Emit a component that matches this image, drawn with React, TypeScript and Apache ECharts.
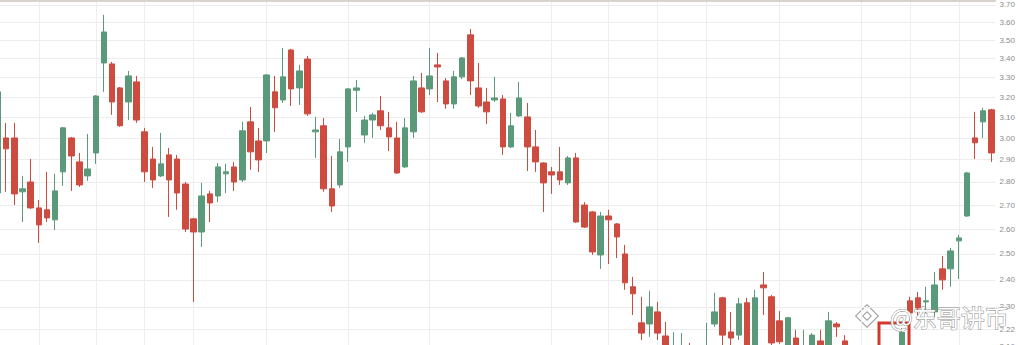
import React, { useEffect, useRef } from "react";
import * as echarts from "echarts";

// OHLC values (price units)
const opens = [
  2.752, 3.001, 3.001, 2.757, 2.8, 2.688, 2.68, 2.638, 2.845, 3.001,
  2.89, 2.827, 2.931, 3.377, 3.372, 3.247, 3.176, 3.278, 3.03, 2.903,
  2.827, 2.922, 2.903, 2.791, 2.642, 2.588, 2.748, 2.739, 2.836, 2.867,
  2.809, 3.078, 2.987, 2.987, 3.227, 3.186, 3.447, 3.247, 3.398, 3.03,
  3.059, 2.77, 2.787, 2.959, 3.235, 3.015, 3.087, 3.132, 3.049, 3.001,
  2.867, 3.03, 3.247, 3.242, 3.367, 3.283, 3.166, 3.304, 3.53, 3.247,
  3.176, 3.186, 3.191, 2.959, 3.107, 3.102, 2.959, 2.885, 2.845, 2.845,
  2.796, 2.908, 2.7, 2.671, 2.496, 2.654, 2.621, 2.5, 2.374, 2.243,
  2.239, 2.282, 2.197, 2.12, 2.123, 2.14, 2.13, 2.118, 2.239, 2.333,
  2.211, 2.2, 2.315, 2.15, 2.381, 2.337, 2.25, 2.143, 2.19, 2.133,
  2.143, 2.18, 2.143, 2.239, 2.18, 2.15, 2.12, 2.135, 2.11, 2.125,
  2.1, 2.14, 2.322, 2.333, 2.318, 2.282, 2.442, 2.442, 2.552, 2.654,
  3.001, 3.078, 3.137,
];
const closes = [
  3.227, 2.95, 2.748, 2.77, 2.688, 2.617, 2.646, 2.761, 3.049, 2.917,
  2.787, 2.858, 3.206, 3.546, 3.176, 3.059, 3.309, 3.087, 2.845, 2.809,
  2.881, 2.809, 2.752, 2.6, 2.588, 2.739, 2.709, 2.867, 2.845, 2.8,
  3.035, 2.936, 2.899, 3.314, 3.147, 3.304, 3.242, 3.335, 3.117, 3.039,
  2.77, 2.696, 2.936, 3.242, 3.247, 3.087, 3.112, 3.059, 3.006, 2.84,
  3.049, 3.283, 3.127, 3.309, 3.356, 3.166, 3.304, 3.404, 3.283, 3.156,
  3.127, 3.196, 2.959, 3.059, 3.196, 2.959, 2.89, 2.796, 2.831, 2.809,
  2.908, 2.629, 2.608, 2.508, 2.654, 2.638, 2.568, 2.389, 2.348, 2.207,
  2.3, 2.207, 2.143, 2.15, 2.16, 2.125, 2.145, 2.158, 2.282, 2.2,
  2.19, 2.311, 2.15, 2.333, 2.37, 2.173, 2.177, 2.261, 2.15, 2.163,
  2.2, 2.163, 2.25, 2.229, 2.143, 2.13, 2.14, 2.118, 2.135, 2.105,
  2.13, 2.21, 2.278, 2.296, 2.322, 2.381, 2.4, 2.512, 2.564, 2.84,
  2.978, 3.132, 2.931,
];
const lows = [
  2.739, 2.757, 2.7, 2.629, 2.684, 2.544, 2.629, 2.596, 2.783, 2.761,
  2.778, 2.805, 2.881, 3.227, 3.112, 3.054, 3.087, 3.073, 2.8, 2.774,
  2.822, 2.65, 2.68, 2.588, 2.318, 2.528, 2.629, 2.713, 2.752, 2.761,
  2.8, 2.854, 2.845, 2.931, 3.03, 3.171, 3.156, 3.161, 3.107, 2.908,
  2.757, 2.671, 2.774, 2.89, 3.127, 2.978, 3.001, 3.039, 2.94, 2.836,
  2.863, 3.001, 3.122, 3.211, 3.176, 3.142, 3.142, 3.293, 3.211, 3.147,
  3.068, 3.176, 2.922, 2.954, 3.102, 2.849, 2.845, 2.671, 2.748, 2.787,
  2.787, 2.625, 2.604, 2.496, 2.442, 2.461, 2.484, 2.363, 2.271, 2.183,
  2.194, 2.183, 2.116, 2.1, 2.105, 2.1, 2.11, 2.095, 2.229, 2.156,
  2.15, 2.183, 2.123, 2.133, 2.271, 2.166, 2.17, 2.123, 2.133, 2.12,
  2.13, 2.143, 2.13, 2.194, 2.123, 2.11, 2.1, 2.105, 2.095, 2.09,
  2.09, 2.125, 2.218, 2.268, 2.261, 2.264, 2.363, 2.374, 2.403, 2.65,
  2.903, 3.001, 2.89,
];
const highs = [
  3.247, 3.073, 3.073, 2.827, 2.903, 2.722, 2.845, 2.836, 3.054, 3.006,
  2.931, 3.02, 3.211, 3.643, 3.383, 3.252, 3.335, 3.309, 3.049, 2.959,
  3.025, 2.954, 2.922, 2.8, 2.646, 2.796, 2.761, 2.885, 2.881, 2.89,
  3.078, 3.151, 3.049, 3.319, 3.309, 3.458, 3.453, 3.367, 3.415, 3.102,
  3.097, 2.917, 2.996, 3.247, 3.288, 3.107, 3.122, 3.206, 3.127, 3.078,
  3.097, 3.309, 3.325, 3.458, 3.431, 3.298, 3.335, 3.409, 3.563, 3.377,
  3.247, 3.304, 3.211, 3.122, 3.278, 3.171, 3.039, 2.888, 2.867, 2.959,
  2.917, 2.931, 2.713, 2.675, 2.671, 2.68, 2.625, 2.536, 2.411, 2.337,
  2.359, 2.318, 2.246, 2.21, 2.207, 2.173, 2.155, 2.243, 2.352, 2.337,
  2.282, 2.333, 2.333, 2.363, 2.43, 2.344, 2.285, 2.264, 2.218, 2.218,
  2.207, 2.218, 2.282, 2.246, 2.2, 2.158, 2.15, 2.148, 2.145, 2.14,
  2.15, 2.225, 2.337, 2.355, 2.374, 2.43, 2.492, 2.524, 2.576, 2.845,
  3.127, 3.147, 3.142,
];
const categories = opens.map((_, i) => String(i + 1));
// candles that carry a vertical time grid line
const timeGridIndices = [5, 12, 18, 24, 33, 43, 53, 68, 75, 81, 87, 96, 106, 112, 118];
// price scale labels (log scale)
const priceLabels = [
  3.7, 3.6, 3.5, 3.4, 3.3, 3.2, 3.1, 3.0, 2.9, 2.8, 2.7, 2.6, 2.5, 2.4, 2.3, 2.22, 2.16,
];
const priceTop = 3.7233;
const priceBottom = 2.0824;

const UP = "#5a9a7a";
const DOWN = "#cd4b3f";

export default function App() {
  const ref = useRef<HTMLDivElement>(null);
  useEffect(() => {
    if (!ref.current) return;
    const chart = echarts.init(ref.current, undefined, { renderer: "svg" });
    const data = opens.map((o, i) => [
      Math.log(o),
      Math.log(closes[i]),
      Math.log(lows[i]),
      Math.log(highs[i]),
    ]);
    const tickVals = priceLabels.map((p) => Math.log(p));
    chart.setOption({
      animation: false,
      backgroundColor: "#ffffff",
      grid: { left: 0, right: 20.9, top: 1, bottom: 0, containLabel: false },
      xAxis: {
        type: "category",
        data: categories,
        boundaryGap: true,
        position: "top",
        axisLine: { show: true, lineStyle: { color: "#cbc4bc", width: 1.6 } },
        axisTick: { show: false },
        axisLabel: { show: false },
        splitLine: {
          show: true,
          alignWithLabel: true,
          interval: (idx: number) => timeGridIndices.includes(idx),
          lineStyle: { color: "#eeeeee", width: 1 },
        },
      },
      yAxis: {
        type: "value",
        position: "right",
        min: Math.log(priceBottom),
        max: Math.log(priceTop),
        axisLine: { show: false },
        axisTick: { show: false, customValues: tickVals },
        axisLabel: {
          customValues: tickVals,
          formatter: (v: number) => Math.exp(v).toFixed(2),
          color: "#8c8c8c",
          fontSize: 8,
          margin: 4,
          fontFamily: '"Liberation Sans", Arial, sans-serif',
        },
        splitLine: {
          show: true,
          customValues: tickVals,
          lineStyle: { color: "#ececec", width: 1 },
        },
      },
      series: [
        {
          type: "candlestick",
          data,
          barWidth: 6,
          itemStyle: {
            color: UP,
            color0: DOWN,
            borderColor: UP,
            borderColor0: DOWN,
            borderWidth: 1,
          },
        },
      ],
      graphic: [
        {
          type: "rect",
          z: 100,
          shape: { x: 885, y: 323, width: 30, height: 40 },
          style: { fill: "none", stroke: "#d1392d", lineWidth: 3 },
        },
        {
          type: "group",
          z: 100,
          x: 873,
          y: 316,
          rotation: Math.PI / 4,
          children: [
            {
              type: "rect",
              shape: { x: -8, y: -8, width: 16, height: 16 },
              style: { fill: "#ffffff", stroke: "#9a9a9a", lineWidth: 1 },
            },
            {
              type: "rect",
              shape: { x: -3, y: -3, width: 6, height: 6 },
              style: { fill: "#ffffff", stroke: "#9a9a9a", lineWidth: 1 },
            },
          ],
        },
        {
          type: "text",
          z: 100,
          x: 896,
          y: 304,
          style: {
            text: "@东哥讲币",
            font: '400 24px "Noto Sans CJK SC"',
            fill: "#ffffff",
            stroke: "#8a8a8a",
            lineWidth: 1,
          },
        },
      ],
    });
    return () => chart.dispose();
  }, []);
  return (
    <div
      ref={ref}
      style={{ position: "fixed", left: -6, top: 0, width: 1024, height: 370 }}
    />
  );
}
